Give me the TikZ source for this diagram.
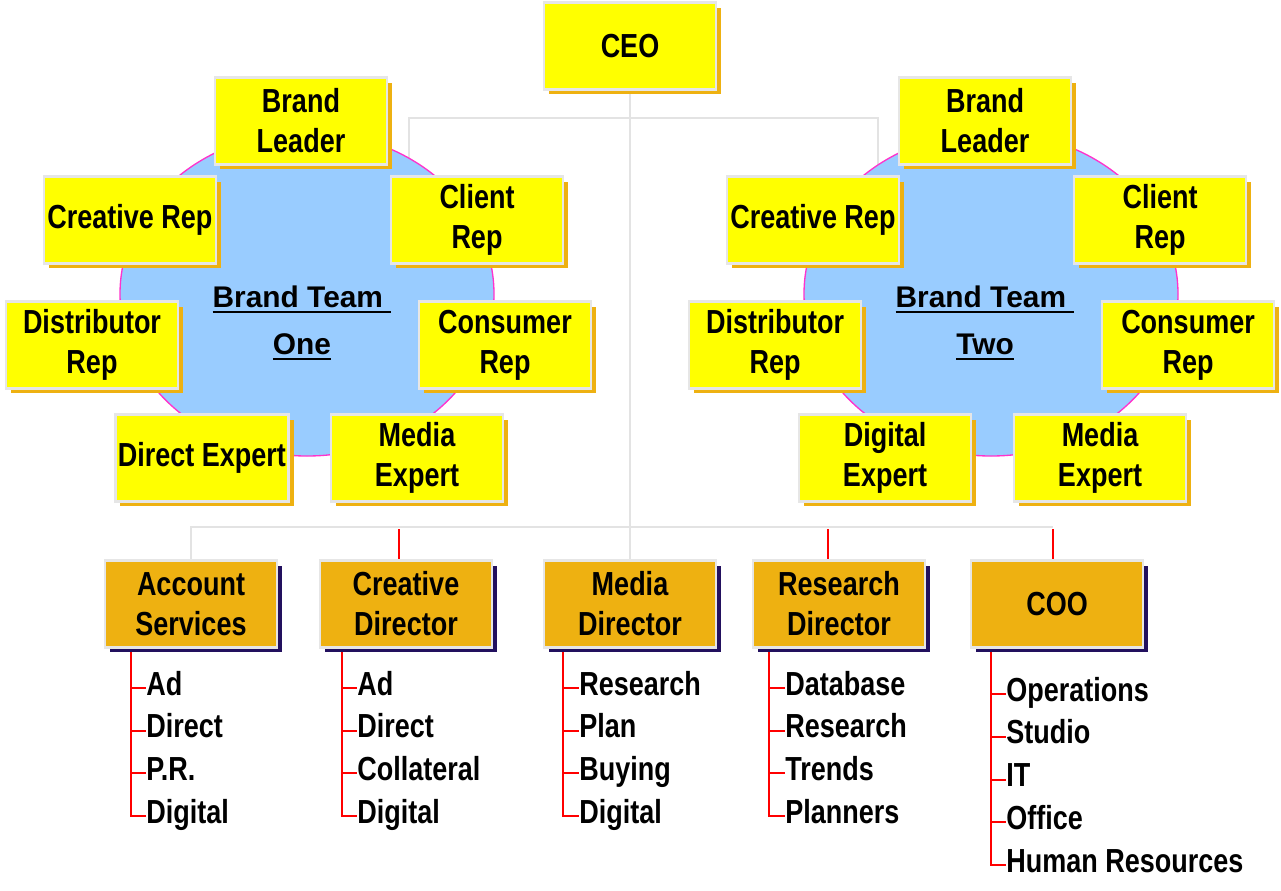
\documentclass[tikz,border=0pt]{standalone}
\usepackage{fontspec}
\setmainfont{Liberation Sans}[FakeStretch=0.81]
\newfontfamily\teamfont{Liberation Sans}
\usetikzlibrary{shapes.geometric,shadows,positioning,backgrounds}

\definecolor{memberfill}{HTML}{FFFF00}
\definecolor{memberedge}{HTML}{E6E6E6}
\definecolor{goldshade}{HTML}{EEB111}
\definecolor{directorfill}{HTML}{EEB111}
\definecolor{navyshade}{HTML}{22105E}
\definecolor{teamfill}{HTML}{99CCFF}
\definecolor{teamedge}{HTML}{FF33CC}
\definecolor{linkgray}{HTML}{E3E3E3}

% underline with a thicker rule
\newcommand{\teamul}[1]{\leavevmode\setbox0\hbox{#1}\rlap{\rule[-4.5pt]{\wd0}{1.8pt}}\box0}

\begin{document}
\begin{tikzpicture}[
    x=0.75pt, y=-0.75pt,
    every node/.style={font=\bfseries\fontsize{25}{30}\selectfont},
    orgbox/.style={rectangle, draw=memberedge, line width=2pt, align=center, minimum width=129pt, minimum height=65pt, inner sep=2pt},
    member/.style={orgbox, fill=memberfill, drop shadow={shadow xshift=3.75pt, shadow yshift=-3.75pt, fill=goldshade, opacity=1}},
    director/.style={orgbox, fill=directorfill, drop shadow={shadow xshift=3.75pt, shadow yshift=-3.75pt, fill=navyshade, opacity=1}},
    team/.style={ellipse, draw=teamedge, line width=1pt, fill=teamfill, inner sep=0pt, minimum width=280.5pt, minimum height=243pt},
    teamlabel/.style={align=center, font=\teamfont\bfseries\fontsize{22.4}{35}\selectfont},
    link/.style={draw=linkgray, line width=1.5pt},
    reddrop/.style={draw=red, line width=1.5pt},
    listline/.style={draw=red, line width=1.5pt},
    listitem/.style={anchor=west, inner sep=0pt, text height=18pt, text depth=7.5pt}
]
    \useasboundingbox (0,0) rectangle (1281,890);

    % brand teams
    \node [team] (teamone) at (307,294) {};
    \node [team] (teamtwo) at (991,294) {};
    \node [teamlabel] (teamonelabel) at (302,323) {\teamul{Brand Team\ }\\\teamul{One}};
    \node [teamlabel] (teamtwolabel) at (985,323) {\teamul{Brand Team\ }\\\teamul{Two}};

    \node [member] (ceo) at (630,46) {CEO};

    \node [member] (leader1) at (301,121) {Brand\\Leader};
    \node [member] (creative1) at (130,220) {Creative Rep};
    \node [member] (client1) at (477,220) {Client\\Rep};
    \node [member] (distrib1) at (92,345) {Distributor\\Rep};
    \node [member] (consumer1) at (505,345) {Consumer\\Rep};
    \node [member] (direct1) at (202,458) {Direct Expert};
    \node [member] (media1) at (417,458) {Media\\Expert};

    \node [member] (leader2) at (985,121) {Brand\\Leader};
    \node [member] (creative2) at (813,220) {Creative Rep};
    \node [member] (client2) at (1160,220) {Client\\Rep};
    \node [member] (distrib2) at (775,345) {Distributor\\Rep};
    \node [member] (consumer2) at (1188,345) {Consumer\\Rep};
    \node [member] (digital2) at (885,458) {Digital\\Expert};
    \node [member] (media2) at (1100,458) {Media\\Expert};

    % directors
    \node [director] (acct) at (191,604) {Account\\Services};
    \node [director] (crdir) at (406,604) {Creative\\Director};
    \node [director] (meddir) at (630,604) {Media\\Director};
    \node [director] (resdir) at (839,604) {Research\\Director};
    \node [director] (coo) at (1057,604) {COO};

    % lists
    \foreach \txt [count=\i] in {Ad, Direct, P.R., Digital}
        \node [listitem] (acct-\i) at (146, 645.3+42.7*\i) {\txt};
    \foreach \txt [count=\i] in {Ad, Direct, Collateral, Digital}
        \node [listitem] (crdir-\i) at (357, 645.3+42.7*\i) {\txt};
    \foreach \txt [count=\i] in {Research, Plan, Buying, Digital}
        \node [listitem] (meddir-\i) at (579, 645.3+42.7*\i) {\txt};
    \foreach \txt [count=\i] in {Database, Research, Trends, Planners}
        \node [listitem] (resdir-\i) at (785, 645.3+42.7*\i) {\txt};
    \foreach \txt [count=\i] in {Operations, Studio, IT, Office, Human Resources}
        \node [listitem] (coo-\i) at (1006, 651.2+42.8*\i) {\txt};

    \coordinate (tapL) at (409,118);
    \coordinate (tapR) at (878,118);
    \coordinate (busL) at (191,527);
    \coordinate (busR) at (1053,527);
    \coordinate (crtap) at (399,529);
    \coordinate (restap) at (828,529);
    \coordinate (cootap) at (1053,529);

    \begin{scope}[on background layer]
        \fill [white] (0,0) rectangle (1281,890);
        \path [link] (ceo) -- (meddir);
        \path [link] (tapL |- teamone.center) -- (tapL) -- (tapR) -- (tapR |- teamtwo.center);
        \path [link] (acct) -- (busL) -- (busR);
        \path [reddrop] (crtap) -- (crtap |- crdir.north);
        \path [reddrop] (restap) -- (restap |- resdir.north);
        \path [reddrop] (cootap) -- (cootap |- coo.north);
        \foreach \i in {1,...,4} {
            \path [listline] (acct.south -| 131,0) |- (acct-\i.west);
            \path [listline] (crdir.south -| 342,0) |- (crdir-\i.west);
            \path [listline] (meddir.south -| 563,0) |- (meddir-\i.west);
            \path [listline] (resdir.south -| 769,0) |- (resdir-\i.west);
        }
        \foreach \i in {1,...,5}
            \path [listline] (coo.south -| 991,0) |- (coo-\i.west);
    \end{scope}
\end{tikzpicture}
\end{document}
